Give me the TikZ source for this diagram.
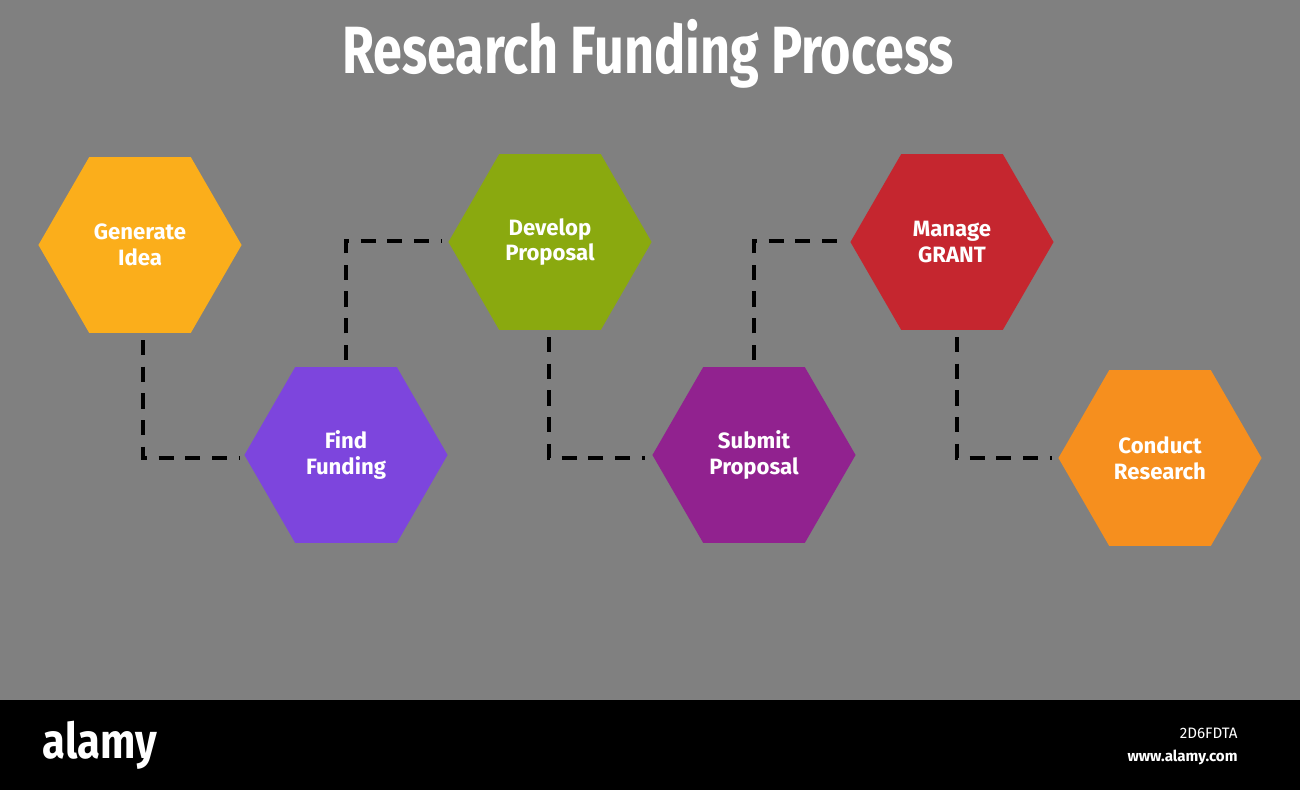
\documentclass[tikz,border=0pt]{standalone}
\usepackage{fontspec}
\setmainfont{Fira Sans}
\usetikzlibrary{shapes.geometric,calc}
\definecolor{bg}{HTML}{808080}
\definecolor{cA}{HTML}{FBAE1B}
\definecolor{cB}{HTML}{7D45DD}
\definecolor{cC}{HTML}{8AA90F}
\definecolor{cD}{HTML}{91228F}
\definecolor{cE}{HTML}{C5262F}
\definecolor{cF}{HTML}{F68F1E}
\tikzset{
 hexa/.style={regular polygon,regular polygon sides=6,shape border rotate=0,minimum size=2.03cm,inner sep=0pt,text=white,font=\fontsize{6.3}{7.3}\selectfont\bfseries,align=center},
 link/.style={black,line width=1.1pt,dash pattern=on 4.3pt off 3.3pt}
}
\begin{document}
\begin{tikzpicture}[x=0.01cm,y=-0.01cm]
\fill[bg] (0,0) rectangle (1300,700);
\fill[black] (0,700) rectangle (1300,790);
\useasboundingbox (0,0) rectangle (1300,790);
\node[text=white,font=\fontsize{19}{22}\selectfont\bfseries,xscale=0.78] (title) at (648,54) {Research Funding Process};
\node[hexa,fill=cA] (gi) at (140,245) {Generate\\Idea};
\node[hexa,fill=cB] (ff) at (346,455) {Find\\Funding};
\node[hexa,fill=cC] (dp) at (550,242) {Develop\\Proposal};
\node[hexa,fill=cD] (sp) at (754,455) {Submit\\Proposal};
\node[hexa,fill=cE] (mg) at (952,242) {Manage\\GRANT};
\node[hexa,fill=cF] (cr) at (1160,458) {Conduct\\Research};
\draw[link] ($(gi.center)+(3,95)$) |- ($(ff.center)+(-106,3)$);
\draw[link] ($(ff.center)+(0,-95)$) |- ($(dp.center)+(-108,-1)$);
\draw[link] ($(dp.center)+(-1,95)$) |- ($(sp.center)+(-109,3)$);
\draw[link] ($(sp.center)+(0,-95)$) |- ($(mg.center)+(-106,-1)$);
\draw[link] ($(mg.center)+(5,95)$) |- ($(cr.center)+(-108,0)$);
\node[text=white,font=\fontsize{14}{16}\selectfont\bfseries,xscale=0.85] (logo) at (100,745) {alamy};
\node[text=white,font=\fontsize{4.3}{5}\selectfont,anchor=east] (code) at (1250,733) {2D6FDTA};
\node[text=white,font=\fontsize{4.3}{5}\selectfont\bfseries,anchor=east] (url) at (1250,757) {www.alamy.com};
\end{tikzpicture}
\end{document}
